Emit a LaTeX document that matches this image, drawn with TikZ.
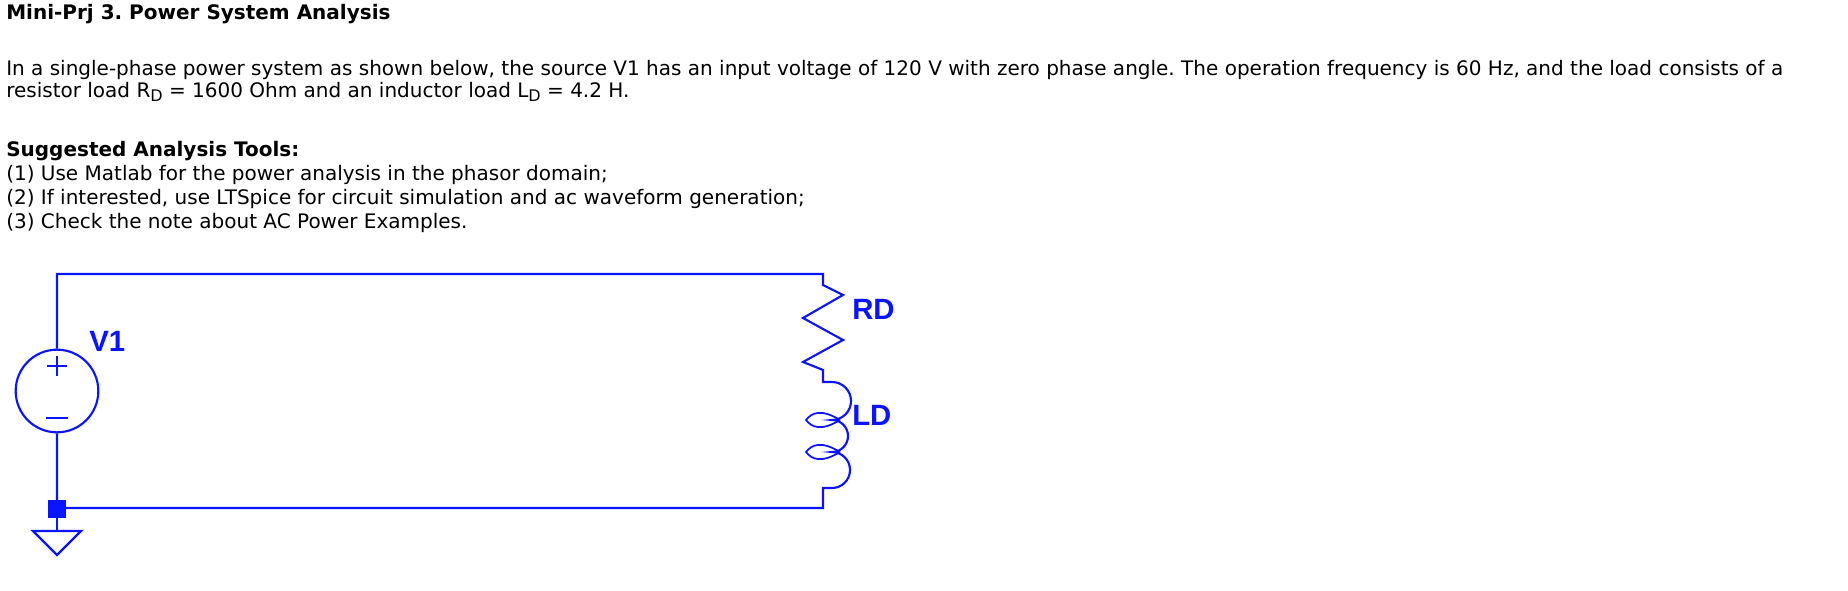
\documentclass[tikz,border=0pt]{standalone}
\usepackage{fontspec}
\setmainfont{DejaVu Sans}
\newfontfamily\lab{Liberation Sans}
\definecolor{wire}{RGB}{10,20,255}
\frenchspacing
\newcommand{\sbd}{\raisebox{-0.3ex}{\fontsize{12pt}{13pt}\selectfont D}}
\begin{document}
\begin{tikzpicture}[x=0.75pt,y=-0.75pt,
  txt/.style={anchor=base west,inner sep=0,font=\fontsize{15pt}{17pt}\selectfont},
  ttl/.style={txt,font=\fontsize{15pt}{17pt}\selectfont\bfseries},
  clab/.style={anchor=base west,inner sep=0,text=wire,font=\lab\bfseries\fontsize{22pt}{24pt}\selectfont},
  w/.style={draw=wire,line width=1.6pt,line join=miter}]
\useasboundingbox (0,0) rectangle (1848,591);
\node[ttl] (t0) at (6,20) {Mini-Prj 3. Power System Analysis};
\node[txt] (t1) at (6,76) {In a single-phase power system as shown below, the source V1 has an input voltage of 120 V with zero phase angle. The operation frequency is 60 Hz, and the load consists of a};
\node[txt] (t2) at (6,98) {resistor load R\sbd{} = 1600 Ohm and an inductor load L\sbd{} = 4.2 H.};
\node[ttl] (t3) at (6,157) {Suggested Analysis Tools:};
\node[txt] (t4) at (6,181) {(1) Use Matlab for the power analysis in the phasor domain;};
\node[txt] (t5) at (6,205) {(2) If interested, use LTSpice for circuit simulation and ac waveform generation;};
\node[txt] (t6) at (6,229) {(3) Check the note about AC Power Examples.};
% circuit
\coordinate (tl) at (57,274);
\coordinate (tr) at (823,274);
\coordinate (br) at (823,508);
\coordinate (bl) at (57,508);
\node[draw=wire,line width=1.6pt,circle,minimum size=62pt,inner sep=0] (v1) at (57,391) {};
\draw[w] (v1.north) -- (tl) -- (tr) -- (823,285) -- (843,295) -- (803,318) -- (843,340) -- (803,362) -- (823,370) -- (823,382) -- (832,382)
  arc[start angle=90,end angle=-90,radius=19*0.75pt]
  arc[start angle=90,end angle=-90,radius=16*0.75pt]
  arc[start angle=90,end angle=-90,radius=18*0.75pt] -- (823,488) -- (br) -- (bl) -- (v1.south);
\draw[w,line width=1.3pt] (840,420) .. controls (822,409) and (812,412) .. (806,420) .. controls (812,428) and (822,431) .. (840,420);
\draw[w,line width=1.3pt] (840,452) .. controls (822,441) and (812,444) .. (806,452) .. controls (812,460) and (822,463) .. (840,452);
\draw[w,line width=1.2pt] (57,356) -- (57,376) (47,366) -- (67,366) (46,418) -- (68,418);
\node[fill=wire,minimum size=13pt,inner sep=0] (gnd) at (57,509) {};
\draw[w] (gnd) -- (57,531) coordinate (gt);
\draw[w] (33,531) -- (81,531) -- (57,555) -- cycle;
\node[clab] (lv) at (89,352) {V1};
\node[clab] (lr) at (852,320) {RD};
\node[clab] (ll) at (852,425) {LD};
\end{tikzpicture}
\end{document}
